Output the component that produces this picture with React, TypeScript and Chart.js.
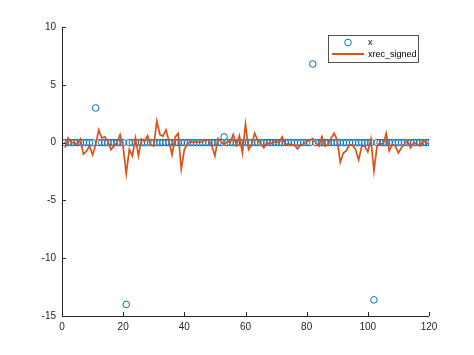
import React, { useEffect, useRef } from "react";
import { Chart, registerables } from "chart.js";

Chart.register(...registerables);

const indices: number[] = Array.from({ length: 120 }, (_, i) => i + 1);

// sparse signal x: nonzero entries (index -> value), all others 0
const spikeIdx = [11, 21, 53, 82, 102];
const spikeVal = [3, -14, 0.5, 6.8, -13.6];

const xrecSigned = [
  -0.45, 0.4, 0, 0, -0.2, 0.3, -1.0, -0.75, -0.3, -1.05,
  -0.2, 1.1, 0.4, 0.5, 0.1, -0.6, -0.3, 0, 0.7, -0.4,
  -2.7, -0.6, -1.15, 0.4, -1.15, 0.3, 0.1, 0.6, -0.2, -0.3,
  1.85, 0.7, 0.55, 1.1, 0.1, -1.05, 0.5, 0.8, -2.3, -0.6,
  -0.1, 0.1, 0, 0.1, 0, 0.1, 0.25, 0.2, -0.3, -1.15,
  0.35, 0.1, -0.2, 0.1, 0, 0.7, -0.2, 0.6, -0.9, 1.6,
  -0.6, -0.2, 0.8, 0.2, -0.1, -0.45, 0, -0.1, 0, 0.1,
  0, 0.5, -0.2, -0.1, -0.2, -0.2, -0.55, -0.2, -0.1, 0.1,
  0.2, 0.35, 0, -0.3, 0.5, -0.3, -0.2, 0.4, 0.8, 0.2,
  -1.7, -0.9, -0.7, -0.15, -0.2, -0.6, -1.5, -0.3, -0.3, -0.8,
  0.3, -2.45, -0.3, 0, -0.2, 0.8, -0.7, -0.15, -0.3, -0.9,
  -0.45, -0.1, 0.15, -0.45, 0, -0.1, -0.3, 0.15, 0, -0.1,
];

const xTicks = [0, 20, 40, 60, 80, 100, 120];
const yTicks = [-15, -10, -5, 0, 5, 10];
const legendLabels = ["x", "xrec_signed"];

const BLUE = "#0072BD";
const ORANGE = "#D95319";
const AXIS = "#262626";
const FONT = "Liberation Sans, Arial, Helvetica, sans-serif";

const xValues = indices.map((i) => {
  const k = spikeIdx.indexOf(i);
  return k >= 0 ? spikeVal[k] : 0;
});

const axesPlugin = {
  id: "matlabAxes",
  afterDatasetsDraw(chart: any) {
    const { ctx, chartArea, scales } = chart;
    const { left, right, top, bottom } = chartArea;
    ctx.save();
    ctx.strokeStyle = AXIS;
    ctx.lineWidth = 1;
    ctx.beginPath();
    ctx.moveTo(left + 0.5, top);
    ctx.lineTo(left + 0.5, bottom + 0.5);
    ctx.lineTo(right, bottom + 0.5);
    ctx.stroke();
    ctx.beginPath();
    for (const t of yTicks) {
      const y = Math.round(scales.y.getPixelForValue(t)) + 0.5;
      ctx.moveTo(left, y);
      ctx.lineTo(left + 4, y);
    }
    for (const t of xTicks) {
      const x = Math.round(scales.x.getPixelForValue(t)) + 0.5;
      ctx.moveTo(x, bottom);
      ctx.lineTo(x, bottom - 4);
    }
    ctx.stroke();

    // legend
    const lx = 328, ly = 35, lw = 90, lh = 27;
    ctx.fillStyle = "#ffffff";
    ctx.fillRect(lx, ly, lw, lh);
    ctx.strokeStyle = "#262626";
    ctx.lineWidth = 0.8;
    ctx.strokeRect(lx + 0.5, ly + 0.5, lw, lh);
    ctx.strokeStyle = BLUE;
    ctx.lineWidth = 1;
    ctx.beginPath();
    ctx.arc(348, 42.5, 3.3, 0, Math.PI * 2);
    ctx.stroke();
    ctx.strokeStyle = ORANGE;
    ctx.lineWidth = 2;
    ctx.beginPath();
    ctx.moveTo(332, 54);
    ctx.lineTo(364, 54);
    ctx.stroke();
    ctx.fillStyle = "#000000";
    ctx.font = `9px ${FONT}`;
    ctx.textAlign = "left";
    ctx.textBaseline = "middle";
    ctx.fillText(legendLabels[0], 368, 42.5);
    ctx.fillText(legendLabels[1], 368, 54.5);
    ctx.restore();
  },
};

export default function App() {
  const ref = useRef<HTMLCanvasElement>(null);
  useEffect(() => {
    document.body.style.margin = "0";
    const chart = new Chart(ref.current!, {
      type: "scatter",
      data: {
        datasets: [
          {
            label: legendLabels[1],
            type: "line",
            data: indices.map((i, k) => ({ x: i, y: xrecSigned[k] })),
            borderColor: ORANGE,
            borderWidth: 1.7,
            pointRadius: 0,
            tension: 0,
            order: 0,
          } as any,
          {
            label: legendLabels[0],
            data: indices.map((i, k) => ({ x: i, y: xValues[k] })),
            borderColor: BLUE,
            backgroundColor: "rgba(0,0,0,0)",
            pointRadius: 3.3,
            pointBorderWidth: 1,
            showLine: false,
            order: 1,
          },
        ],
      },
      options: {
        responsive: false,
        animation: false,
        layout: { padding: { top: 27, right: 45, left: 0, bottom: 0 } },
        plugins: { legend: { display: false }, tooltip: { enabled: false } },
        scales: {
          x: {
            type: "linear",
            min: 0,
            max: 120,
            afterBuildTicks: (s: any) => {
              s.ticks = xTicks.map((v) => ({ value: v }));
            },
            afterFit: (s: any) => {
              s.height = 39;
            },
            grid: { display: false, drawTicks: false },
            border: { display: false },
            ticks: {
              color: AXIS,
              font: { family: FONT, size: 10 },
              padding: 5,
              maxRotation: 0,
            },
          },
          y: {
            type: "linear",
            min: -15,
            max: 10,
            afterBuildTicks: (s: any) => {
              s.ticks = yTicks.map((v) => ({ value: v }));
            },
            afterFit: (s: any) => {
              s.width = 62;
            },
            grid: { display: false, drawTicks: false },
            border: { display: false },
            ticks: {
              color: AXIS,
              font: { family: FONT, size: 10 },
              padding: 6,
            },
          },
        },
      },
      plugins: [axesPlugin],
    });
    return () => chart.destroy();
  }, []);
  return (
    <div style={{ position: "fixed", left: 0, top: 0, width: 474, height: 355, background: "#fff" }}>
      <canvas ref={ref} width={474} height={355} style={{ width: 474, height: 355 }} />
    </div>
  );
}
